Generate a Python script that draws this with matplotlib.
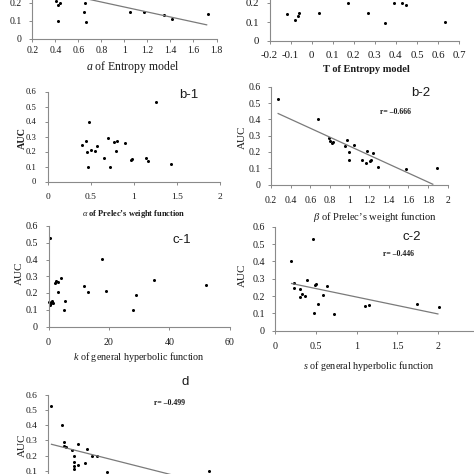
import matplotlib
matplotlib.use("Agg")
import matplotlib.pyplot as plt
from matplotlib.ticker import FuncFormatter, FixedLocator

plt.rcParams['font.family'] = ['Liberation Serif', 'DejaVu Serif']
plt.rcParams['mathtext.fontset'] = 'custom'
plt.rcParams['mathtext.rm'] = 'Liberation Serif'
plt.rcParams['mathtext.it'] = 'Liberation Serif:italic'
plt.rcParams['mathtext.bf'] = 'Liberation Serif:bold'

# ---------------- data ----------------
auc_ticks = [0, 0.1, 0.2, 0.3, 0.4, 0.5, 0.6]
auc_ticks_top = [0, 0.1, 0.2]   # only these are inside the cropped picture

# a-1 : a of Entropy model
a1_x = [0.41, 0.42, 0.44, 0.42, 0.65, 0.66, 0.67, 1.05, 1.17, 1.34, 1.41, 1.73,
        0.45, 0.60, 0.50, 0.43, 0.55, 0.70, 0.47, 0.40, 0.52]
a1_y = [0.21, 0.19, 0.20, 0.10, 0.15, 0.20, 0.094, 0.148, 0.15, 0.13, 0.11, 0.138,
        0.528, 0.40, 0.29, 0.276, 0.27, 0.263, 0.258, 0.245, 0.238]
a1_fit_x = [0.40, 1.72]
a1_fit_y = [0.261, 0.076]
a1_xticks = [0.2, 0.4, 0.6, 0.8, 1.0, 1.2, 1.4, 1.6, 1.8]

# a-2 : T of Entropy model
a2_x = [-0.115, -0.08, -0.065, -0.06, 0.035, 0.175, 0.27, 0.35, 0.39, 0.43, 0.45, 0.635,
        0.05, 0.10, 0.20, 0.30, 0.00, 0.15, 0.25, 0.40, 0.12]
a2_y = [0.14, 0.11, 0.13, 0.15, 0.146, 0.20, 0.15, 0.096, 0.20, 0.20, 0.19, 0.10,
        0.528, 0.40, 0.29, 0.276, 0.27, 0.263, 0.258, 0.245, 0.238]
a2_xticks = [-0.2, -0.1, 0, 0.1, 0.2, 0.3, 0.4, 0.5, 0.6, 0.7]

# b-1 : alpha of Prelec's weight function
b1_x = [0.405, 0.444, 0.463, 0.475, 0.486, 0.50, 0.55, 0.57, 0.656, 0.70, 0.726,
        0.77, 0.80, 0.795, 0.90, 0.973, 0.985, 1.14, 1.16, 1.26, 1.436]
b1_y = [0.245, 0.27, 0.195, 0.099, 0.40, 0.207, 0.203, 0.238, 0.155, 0.29, 0.097,
        0.263, 0.27, 0.205, 0.258, 0.141, 0.152, 0.155, 0.135, 0.528, 0.115]
b1_xticks = [0, 0.5, 1, 1.5, 2]

# b-2 : beta of Prelec's weight function
b2_x = [0.267, 0.68, 0.795, 0.80, 0.82, 0.835, 0.95, 0.98, 1.0, 1.0, 1.05,
        1.13, 1.166, 1.177, 1.21, 1.217, 1.24, 1.295, 1.58, 1.89]
b2_y = [0.524, 0.40, 0.285, 0.268, 0.254, 0.26, 0.238, 0.272, 0.20, 0.152, 0.244,
        0.152, 0.132, 0.203, 0.146, 0.15, 0.193, 0.11, 0.098, 0.10]
b2_fit_x = [0.267, 1.856]
b2_fit_y = [0.437, 0.0]
b2_xticks = [0.2, 0.4, 0.6, 0.8, 1.0, 1.2, 1.4, 1.6, 1.8, 2.0]

# c-1 : k of general hyperbolic function
c1_x = [0.55, 0.3, 0.6, 0.8, 1.1, 1.4, 0.55, 2.0, 2.5, 3.0, 3.1, 4.2, 5.0, 5.5,
        11.8, 13.2, 17.6, 19.1, 27.8, 28.9, 34.9, 52.2]
c1_y = [0.527, 0.145, 0.135, 0.14, 0.15, 0.143, 0.13, 0.26, 0.27, 0.265, 0.207, 0.29,
        0.10, 0.155, 0.239, 0.205, 0.404, 0.21, 0.10, 0.19, 0.276, 0.248]
c1_xticks = [0, 20, 40, 60]

# c-2 : s of general hyperbolic function
c2_x = [0.193, 0.226, 0.226, 0.31, 0.31, 0.33, 0.37, 0.39, 0.47, 0.48, 0.49,
        0.505, 0.53, 0.587, 0.636, 0.72, 1.10, 1.16, 1.745, 2.01]
c2_y = [0.404, 0.273, 0.244, 0.238, 0.196, 0.21, 0.20, 0.29, 0.529, 0.10, 0.263,
        0.269, 0.152, 0.204, 0.258, 0.094, 0.142, 0.15, 0.152, 0.135]
c2_fit_x = [0.193, 2.01]
c2_fit_y = [0.273, 0.096]
c2_xticks = [0, 0.5, 1, 1.5, 2]

# d
d_x = [0.031, 0.16, 0.186, 0.186, 0.202, 0.272, 0.35, 0.455, 0.299, 0.505, 0.563,
       0.299, 0.299, 0.299, 0.342, 0.427, 0.68, 1.876]
d_y = [0.527, 0.40, 0.29, 0.265, 0.257, 0.239, 0.274, 0.243, 0.20, 0.20, 0.20,
       0.155, 0.135, 0.115, 0.14, 0.153, 0.09, 0.10]
d_fit_x = [0.03, 1.876]
d_fit_y = [0.276, 0.011]

# ---------------- layout ----------------
W = H = 474
fig = plt.figure(figsize=(4.74, 4.74), dpi=100)
fig.patch.set_facecolor('white')

SPINE = '#8a8a8a'
TXT = '#1a1a1a'
LINE = '#7a7a7a'


def fmt(v, pos=None):
    return f"{v:g}"


def add_ax(left, right, y0, ytop, xlim, ylim, xticks, yticks, tfs=7.0, ytfs=None,
           xpad=5, ypad=5):
    ax = fig.add_axes([left / W, 1 - y0 / H, (right - left) / W, (y0 - ytop) / H])
    ax.set_xlim(*xlim)
    ax.set_ylim(*ylim)
    for s in ('top', 'right'):
        ax.spines[s].set_visible(False)
    for s in ('left', 'bottom'):
        ax.spines[s].set_color(SPINE)
        ax.spines[s].set_linewidth(0.8)
    ax.xaxis.set_major_locator(FixedLocator(xticks))
    ax.yaxis.set_major_locator(FixedLocator(yticks))
    ax.xaxis.set_major_formatter(FuncFormatter(fmt))
    ax.yaxis.set_major_formatter(FuncFormatter(fmt))
    ax.tick_params(axis='both', direction='out', length=2.5, width=0.7, color=SPINE,
                   labelcolor=TXT, labelsize=tfs)
    ax.tick_params(axis='x', pad=xpad, labelbottom=bool(xticks))
    ax.tick_params(axis='y', pad=ypad, labelsize=ytfs if ytfs else tfs)
    ax.patch.set_alpha(0)
    return ax


def pt(ax, x, y):
    ax.plot(x, y, linestyle='none', marker='o', markersize=2.2, color='black',
            markeredgewidth=0, clip_on=False)


def fit(ax, x, y):
    ax.plot(x, y, color=LINE, linewidth=0.9, solid_capstyle='butt')


def ftext(x, y, s, **kw):
    fig.text(x / W, 1 - y / H, s, ha='center', va='center', color=TXT, **kw)


# a-1
ax = add_ax(32.3, 216.5, 38.5, -68.3, (0.2, 1.8), (0, 0.6), a1_xticks, auc_ticks_top,
            tfs=7.0, xpad=3.2)
pt(ax, a1_x, a1_y)
fit(ax, a1_fit_x, a1_fit_y)
ftext(132.5, 66.7, r"$a$ of Entropy model", fontsize=8.5)

# a-2
ax = add_ax(269.5, 459, 41, -73, (-0.2, 0.7), (0, 0.6), a2_xticks, auc_ticks_top,
            tfs=7.8, xpad=4.5)
pt(ax, a2_x, a2_y)
ftext(366, 70, "T of Entropy model", fontsize=7.5, fontweight='bold')

# b-1
ax = add_ax(47.5, 220, 181.5, 91.5, (0, 2), (0, 0.6), b1_xticks, auc_ticks,
            tfs=6.8, ytfs=6.2, xpad=5.5, ypad=5.5)
pt(ax, b1_x, b1_y)
ftext(133.8, 214, r"$\alpha$ of Prelec’s weight function", fontsize=6.0, fontweight='bold')
ftext(22, 138, "AUC", fontsize=7.3, fontweight='bold', rotation=90)
ftext(188.3, 95, "b-1", fontsize=9.5, family='Liberation Sans')

# b-2
ax = add_ax(271, 447.5, 184.5, 86.7, (0.2, 2.0), (0, 0.6), b2_xticks, auc_ticks,
            tfs=7.0, xpad=5.5)
pt(ax, b2_x, b2_y)
fit(ax, b2_fit_x, b2_fit_y)
ftext(375, 217, r"$\beta$ of Prelec’s weight function", fontsize=7.6)
ftext(242, 137, "AUC", fontsize=8, rotation=90)
ftext(420.3, 93.3, "b-2", fontsize=9.5, family='Liberation Sans')
ftext(395.3, 111.7, "r= –0.666", fontsize=5.6, fontweight='bold')

# c-1
ax = add_ax(48.5, 230, 326.5, 226, (0, 60), (0, 0.6), c1_xticks, auc_ticks,
            tfs=7.2, xpad=5.5)
pt(ax, c1_x, c1_y)
ftext(139, 357, r"$k$ of general hyperbolic function", fontsize=7.3)
ftext(19.3, 273, "AUC", fontsize=8, rotation=90)
ftext(181.7, 240, "c-1", fontsize=9.5, family='Liberation Sans')

# c-2
ax = add_ax(275.3, 478.3, 330.7, 226.7, (0, 2.5), (0, 0.6), c2_xticks, auc_ticks,
            tfs=7.2, xpad=5.5)
pt(ax, c2_x, c2_y)
fit(ax, c2_fit_x, c2_fit_y)
ftext(368.7, 366, r"$s$ of general hyperbolic function", fontsize=7.3)
ftext(242, 275, "AUC", fontsize=8, rotation=90)
ftext(412, 236.7, "c-2", fontsize=9.5, family='Liberation Sans')
ftext(398.7, 254.3, "r= –0.446", fontsize=5.6, fontweight='bold')

# d (its x axis lies below the cropped picture)
ax = add_ax(48.3, 220, 486, 395, (0, 2), (0, 0.6), [], auc_ticks, tfs=6.8)
pt(ax, d_x, d_y)
fit(ax, d_fit_x, d_fit_y)
ftext(22, 445, "AUC", fontsize=8, rotation=90)
ftext(185, 381.7, "d", fontsize=9.5, family='Liberation Sans')
ftext(170, 403.3, "r= –0.499", fontsize=5.6, fontweight='bold')

fig.savefig("out.png", dpi=100, facecolor='white')
